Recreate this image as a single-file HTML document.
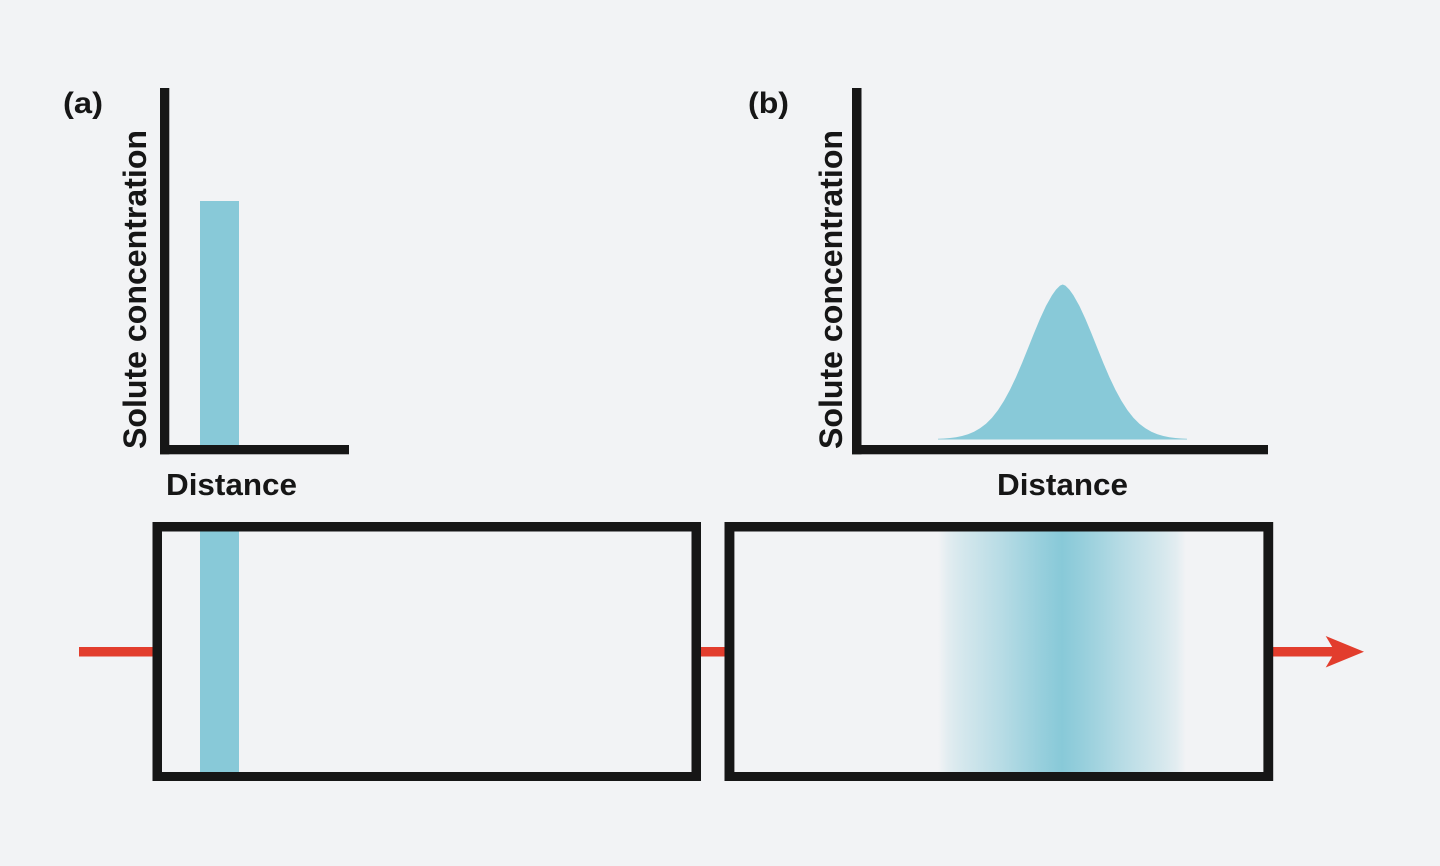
<!DOCTYPE html>
<html>
<head>
<meta charset="utf-8">
<style>
  html, body { margin: 0; padding: 0; background: #f2f3f5; }
  svg { display: block; }
  text { font-family: "Liberation Sans", "DejaVu Sans", sans-serif; font-weight: bold; fill: #161616; }
</style>
</head>
<body>
<svg width="1440" height="866" viewBox="0 0 1440 866" xmlns="http://www.w3.org/2000/svg">
  <defs>
    <linearGradient id="band" x1="938" y1="0" x2="1186" y2="0" gradientUnits="userSpaceOnUse">
      <stop offset="0" stop-color="#88c9d8" stop-opacity="0"/>
      <stop offset="0.04" stop-color="#88c9d8" stop-opacity="0.15"/>
      <stop offset="0.10" stop-color="#88c9d8" stop-opacity="0.28"/>
      <stop offset="0.18" stop-color="#88c9d8" stop-opacity="0.42"/>
      <stop offset="0.26" stop-color="#88c9d8" stop-opacity="0.56"/>
      <stop offset="0.34" stop-color="#88c9d8" stop-opacity="0.72"/>
      <stop offset="0.42" stop-color="#88c9d8" stop-opacity="0.87"/>
      <stop offset="0.50" stop-color="#88c9d8" stop-opacity="1"/>
      <stop offset="0.58" stop-color="#88c9d8" stop-opacity="0.87"/>
      <stop offset="0.66" stop-color="#88c9d8" stop-opacity="0.72"/>
      <stop offset="0.74" stop-color="#88c9d8" stop-opacity="0.56"/>
      <stop offset="0.82" stop-color="#88c9d8" stop-opacity="0.42"/>
      <stop offset="0.90" stop-color="#88c9d8" stop-opacity="0.28"/>
      <stop offset="0.96" stop-color="#88c9d8" stop-opacity="0.15"/>
      <stop offset="1" stop-color="#88c9d8" stop-opacity="0"/>
    </linearGradient>
  </defs>

  <rect x="0" y="0" width="1440" height="866" fill="#f2f3f5"/>

  <!-- Panel (a) -->
  <text x="63" y="113" font-size="30" textLength="40" lengthAdjust="spacingAndGlyphs">(a)</text>
  <rect x="200" y="201" width="39" height="245" fill="#88c9d8"/>
  <rect x="160" y="88" width="9.3" height="366.3" fill="#161616"/>
  <rect x="160" y="445" width="189" height="9.3" fill="#161616"/>
  <text transform="translate(146,449) rotate(-90)" x="0" y="0" font-size="32" textLength="319" lengthAdjust="spacingAndGlyphs">Solute concentration</text>
  <text x="166" y="495" font-size="31" textLength="131" lengthAdjust="spacingAndGlyphs">Distance</text>

  <!-- Panel (b) -->
  <text x="748" y="113" font-size="30" textLength="41" lengthAdjust="spacingAndGlyphs">(b)</text>
  <path id="gauss" fill="#88c9d8" d="M938,439.5 L938.0,438.9 L946.3,438.3 L954.5,437.3 L962.8,435.8 L971.1,433.4 L979.4,429.9 L987.6,424.8 L995.9,417.8 L1004.2,408.6 L1012.4,397.1 L1020.7,383.4 L1029.0,367.9 L1037.3,351.5 L1045.5,335.3 L1053.8,321.1 L1058.0,315.0 L1062.7,284.0 Z" style="display:none"/>
  <path fill="#88c9d8" d="M938.0,439.5 L938.0,438.8 L944.0,438.5 L950.0,438.0 L956.0,437.2 L962.0,436.0 L968.0,434.2 L974.0,431.7 L980.0,428.3 L986.0,423.7 L992.0,417.7 L998.0,410.1 L1004.0,400.8 L1010.0,389.8 L1016.0,377.1 L1022.0,363.1 L1028.0,348.3 L1034.0,333.3 L1040.0,318.9 L1046.0,305.9 L1052.0,295.2 L1056.0,289.6 L1060.0,285.6 L1062.7,284.5 L1065.4,285.6 L1069.4,289.6 L1073.4,295.2 L1079.4,305.9 L1085.4,318.9 L1091.4,333.3 L1097.4,348.3 L1103.4,363.1 L1109.4,377.1 L1115.4,389.8 L1121.4,400.8 L1127.4,410.1 L1133.4,417.7 L1139.4,423.7 L1145.4,428.3 L1151.4,431.7 L1157.4,434.2 L1163.4,436.0 L1169.4,437.2 L1175.4,438.0 L1181.4,438.5 L1187.0,438.8 L1187.0,439.5 Z"/>
  <rect x="852" y="88" width="9.5" height="366.3" fill="#161616"/>
  <rect x="852" y="445" width="416" height="9.3" fill="#161616"/>
  <text transform="translate(842,449) rotate(-90)" x="0" y="0" font-size="32" textLength="319" lengthAdjust="spacingAndGlyphs">Solute concentration</text>
  <text x="997" y="495" font-size="31" textLength="131" lengthAdjust="spacingAndGlyphs">Distance</text>

  <!-- Red flow line -->
  <rect x="79" y="647" width="76" height="9.5" fill="#e23d2d"/>
  <rect x="699" y="647" width="28" height="9.5" fill="#e23d2d"/>
  <rect x="1271" y="647" width="66" height="9.5" fill="#e23d2d"/>
  <polygon points="1325.7,636 1364,651.8 1325.7,667.5 1335,651.8" fill="#e23d2d"/>

  <!-- Column 1 -->
  <rect x="162" y="531.5" width="529.5" height="240.5" fill="#f2f3f5"/>
  <rect x="200" y="531.5" width="39" height="240.5" fill="#88c9d8"/>
  <path fill="#161616" fill-rule="evenodd" d="M152.5,522 H701 V781 H152.5 Z M162,531.5 V772 H691.5 V531.5 Z"/>

  <!-- Column 2 -->
  <rect x="734.4" y="531.5" width="529" height="240.5" fill="#f2f3f5"/>
  <rect x="938" y="531.5" width="248" height="240.5" fill="url(#band)"/>
  <path fill="#161616" fill-rule="evenodd" d="M724.5,522 H1273.2 V781 H724.5 Z M734.4,531.5 V772 H1263.4 V531.5 Z"/>
</svg>
</body>
</html>
